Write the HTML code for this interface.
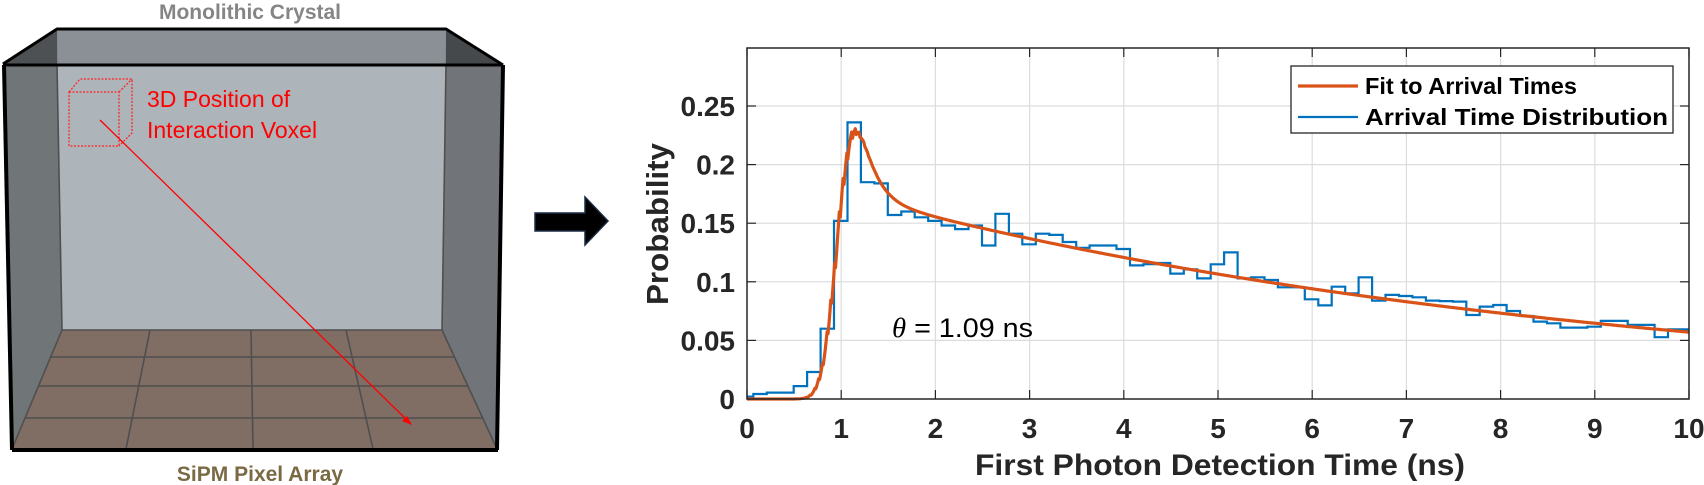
<!DOCTYPE html>
<html><head><meta charset="utf-8"><style>
html,body{margin:0;padding:0;background:#fff;width:1704px;height:485px;overflow:hidden}
svg{display:block;font-family:"Liberation Sans",Arial,sans-serif}
</style></head><body>
<svg id="s" width="1704" height="485" viewBox="0 0 1704 485" xmlns="http://www.w3.org/2000/svg">
<!-- Left illustration -->
<text x="250" y="19" text-anchor="middle" font-size="21" font-weight="bold" fill="#858585">Monolithic Crystal</text>
<polygon points="57,29 446,29 442,330 62,330" fill="#adb4ba"/>
<polygon points="57,29 446,29 446,65 57,65" fill="#8a9096"/>
<polygon points="3,65 57,29 62,330 12,448" fill="#707578"/>
<polygon points="3,64 57,29 57,65" fill="#4d5153"/>
<polygon points="446,29 503,65 497,449 442,330" fill="#717579"/>
<polygon points="446,29 503,65 446,65" fill="#46494b"/>
<polygon points="62,330 442,330 497,449 12,449" fill="#806d63"/>
<g stroke="#4f4f4f" stroke-width="1.6" fill="none">
<line x1="50" y1="357" x2="455" y2="357"/>
<line x1="38" y1="386" x2="468" y2="386"/>
<line x1="25" y1="418" x2="483" y2="418"/>
<line x1="150" y1="330" x2="126" y2="449"/>
<line x1="251" y1="330" x2="253" y2="449"/>
<line x1="346" y1="330" x2="373" y2="449"/>
<line x1="62" y1="330" x2="442" y2="330"/>
<line x1="62" y1="330" x2="12" y2="449"/>
<line x1="442" y1="330" x2="497" y2="449"/>
<line x1="57" y1="65" x2="62" y2="330"/>
<line x1="446" y1="65" x2="442" y2="330"/>
</g>
<g stroke="#000" fill="none" stroke-linejoin="round">
<polyline points="3,64 57,29 446,29 503,65" stroke-width="3"/>
<line x1="3" y1="65" x2="503" y2="65" stroke-width="3"/>
<line x1="4" y1="65" x2="12" y2="450" stroke-width="4"/>
<line x1="12" y1="450" x2="498" y2="450" stroke-width="4"/>
<line x1="503" y1="65" x2="497" y2="450" stroke-width="4"/>
</g>
<g stroke="#ff2020" stroke-width="1.2" stroke-dasharray="2,1.5" fill="none">
<rect x="69" y="92" width="50" height="54"/>
<polyline points="69,92 80,79 132,79 132,133 119,146"/>
<line x1="119" y1="92" x2="132" y2="79"/>
</g>
<line x1="100" y1="120" x2="410" y2="423" stroke="#ff0000" stroke-width="1.3"/>
<polygon points="412,425 402,421 407,416" fill="#ff0000"/>
<text x="147" y="107" font-size="23" fill="#ff0000">3D Position of</text>
<text x="147" y="138" font-size="23" fill="#ff0000">Interaction Voxel</text>
<text x="260" y="481" text-anchor="middle" font-size="21" font-weight="bold" fill="#7b6944">SiPM Pixel Array</text>
<!-- arrow -->
<polygon points="535,213 585,213 585,197 608,221 585,245 585,231 535,231" fill="#000" stroke="#1b2a44" stroke-width="1.5"/>
<!-- chart -->
<g id="grid" stroke="#dcdcdc" stroke-width="1.2"></g>
<g id="ticks" stroke="#262626" stroke-width="1.2"></g>
<path id="hist" fill="none" stroke="#0072BD" stroke-width="2.2" stroke-linejoin="miter"/>
<path id="fit" fill="none" stroke="#D95319" stroke-width="3.2" stroke-linejoin="round"/>
<rect x="747" y="48" width="942" height="351" fill="none" stroke="#262626" stroke-width="1.5"/>
<g id="labels" font-size="28" font-weight="bold" fill="#262626"></g>
<text x="1220" y="475" text-anchor="middle" font-size="30" font-weight="bold" fill="#262626" textLength="490" lengthAdjust="spacingAndGlyphs">First Photon Detection Time (ns)</text>
<text transform="translate(668,224) rotate(-90)" text-anchor="middle" font-size="31" font-weight="bold" fill="#262626" textLength="162" lengthAdjust="spacingAndGlyphs">Probability</text>
<text x="892" y="337" font-size="27" fill="#000" textLength="141" lengthAdjust="spacingAndGlyphs"><tspan font-family="'Liberation Serif',serif" font-style="italic">θ</tspan> = 1.09 ns</text>
<rect x="1291" y="66" width="382" height="67" fill="#fff" stroke="#262626" stroke-width="1.3"/>
<line x1="1298" y1="86" x2="1358" y2="86" stroke="#D95319" stroke-width="3.2"/>
<line x1="1298" y1="117" x2="1358" y2="117" stroke="#0072BD" stroke-width="2.2"/>
<text x="1365" y="94" font-size="23" font-weight="bold" fill="#000" textLength="212" lengthAdjust="spacingAndGlyphs">Fit to Arrival Times</text>
<text x="1365" y="125" font-size="23" font-weight="bold" fill="#000" textLength="303" lengthAdjust="spacingAndGlyphs">Arrival Time Distribution</text>
</svg>
<script>
(function(){
var X0=747,XS=94.2,Y0=399,YS=1172;
function px(t){return X0+t*XS}function py(p){return Y0-p*YS}
var ns="http://www.w3.org/2000/svg";
function el(par,tag,at,txt){var e=document.createElementNS(ns,tag);for(var k in at)e.setAttribute(k,at[k]);if(txt!=null)e.textContent=txt;document.getElementById(par).appendChild(e);}
for(var i=1;i<10;i++){el("grid","line",{x1:px(i),x2:px(i),y1:48,y2:399});}
for(var j=1;j<=5;j++){el("grid","line",{x1:747,x2:1689,y1:py(j*0.05),y2:py(j*0.05)});}
for(var i=0;i<=10;i++){var x=px(i);el("ticks","line",{x1:x,x2:x,y1:399,y2:390});el("ticks","line",{x1:x,x2:x,y1:48,y2:57});
 el("labels","text",{x:x,y:438,"text-anchor":"middle"},String(i));}
var yl=["0","0.05","0.1","0.15","0.2","0.25"];
for(var j=0;j<=5;j++){var y=py(j*0.05);el("ticks","line",{x1:747,x2:756,y1:y,y2:y});el("ticks","line",{x1:1689,x2:1680,y1:y,y2:y});
 el("labels","text",{x:735,y:y+10,"text-anchor":"end"},yl[j]);}
var v=[0.0043,0.0055,0.0055,0.011,0.023,0.060,0.152,0.236,0.185,0.184,0.157,0.160,0.155,0.152,0.148,0.145,0.148,0.131,0.158,0.141,0.132,0.141,0.140,0.134,0.129,0.131,0.131,0.128,0.114,0.115,0.116,0.107,0.1106,0.1029,0.1149,0.1251,0.1029,0.1038,0.1015,0.0953,0.0953,0.0851,0.0799,0.0958,0.0902,0.1038,0.0839,0.0888,0.0879,0.0868,0.0840,0.0835,0.0831,0.0717,0.0788,0.0802,0.0751,0.0708,0.0660,0.0646,0.0609,0.0609,0.0617,0.0666,0.0666,0.0632,0.0632,0.0527,0.0594];
var w=0.1428,s=0.067;
var d="M"+px(0)+","+py(0.002)+" H"+px(s);
for(var k=0;k<v.length;k++){var b=(k==v.length-1)?10:s+(k+1)*w;d+=" V"+py(v[k]).toFixed(1)+" H"+px(Math.min(b,10)).toFixed(1);}
document.getElementById("hist").setAttribute("d",d);
var t0=0.98,sig=0.13,A=0.163,ts=8.0,B=0.23,tf=0.15;
function g(t){if(t<t0)return 0;var u=t-t0;return A*Math.exp(-(u-0.62)/ts)+B*Math.exp(-u/tf);}
function fit(t){var sum=0,ws=0;for(var k=-40;k<=40;k++){var dx=k*sig/10;var wt=Math.exp(-0.5*(dx/sig)*(dx/sig));sum+=wt*g(t-dx);ws+=wt;}return sum/ws;}
var f="";
for(var i=0;i<=1000;i++){var t=i/100;f+=(i==0?"M":" L")+px(t).toFixed(1)+","+py(fit(t)).toFixed(1);}
document.getElementById("fit").setAttribute("d",f);
})();
</script>
</body></html>
